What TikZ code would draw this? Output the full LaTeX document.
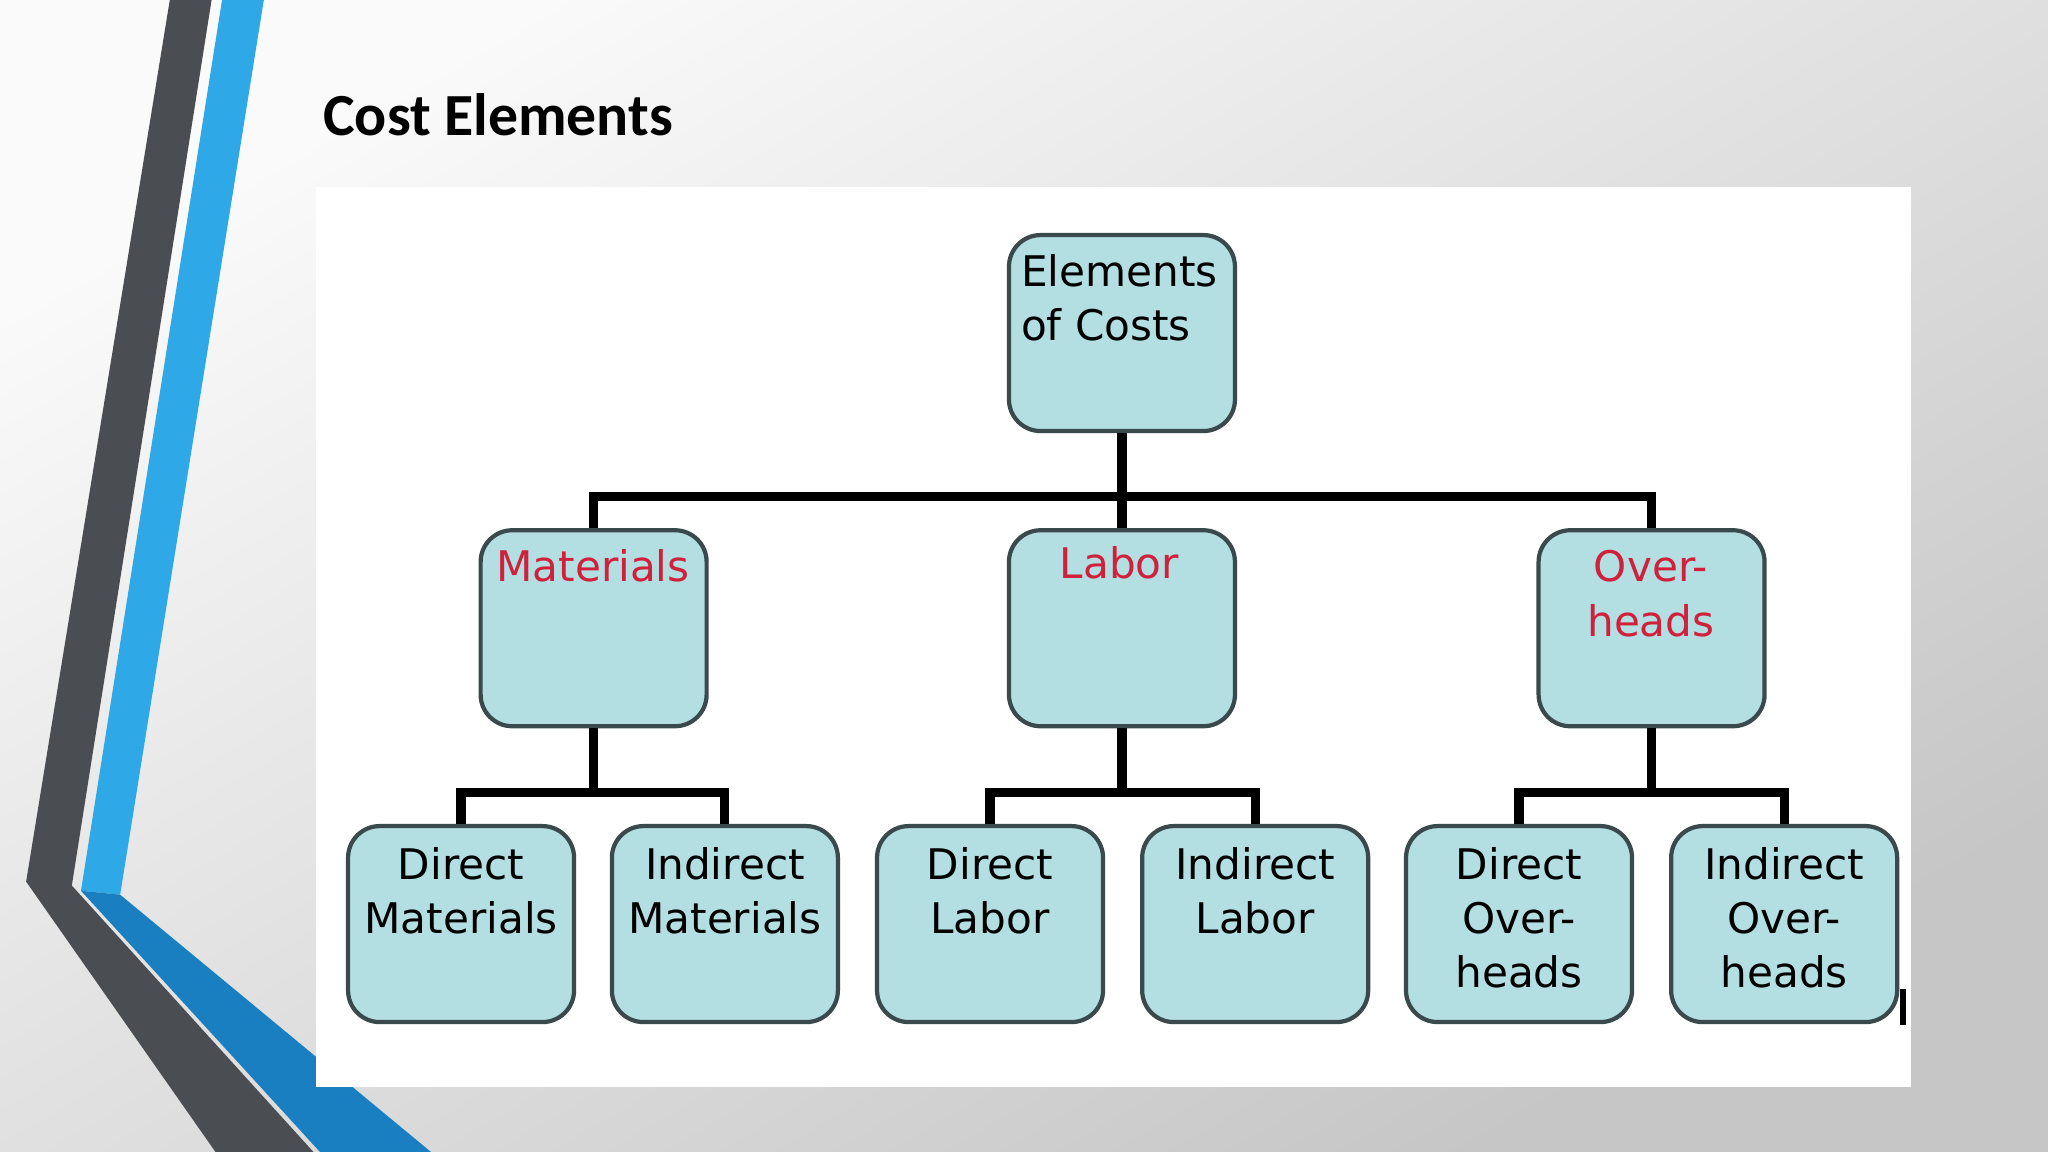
\documentclass[tikz,border=0pt]{standalone}
\usepackage{fontspec}
\setmainfont{DejaVu Sans}
\newfontfamily\titlefont{Carlito}
\definecolor{boxfill}{HTML}{B3DEE2}
\definecolor{boxline}{HTML}{3A4A4C}
\definecolor{redtxt}{HTML}{D0203A}
\definecolor{darkband}{HTML}{4A4D52}
\definecolor{blueband}{HTML}{2EA8E6}
\definecolor{bluedark}{HTML}{1A7FC0}
\begin{document}
\begin{tikzpicture}[x=0.013061cm,y=-0.013061cm,
  cbox/.style={draw=boxline,line width=1.2pt,fill=boxfill,rounded corners=9pt,
    minimum width=2.26cm,minimum height=1.96cm,inner sep=0pt},
  btxt/.style={font=\fontsize{12}{15.4}\selectfont,align=center,anchor=north,inner sep=0pt},
  conn/.style={line width=2.6pt,black}]
\useasboundingbox (0,0) rectangle (1568,882);
\shade[top color=white!96!gray,bottom color=gray!45,shading angle=30] (0,0) rectangle (1568,882);
\fill[darkband] (130,0)--(162,0)--(55,678)--(240,882)--(165,882)--(20,675)--cycle;
\fill[blueband] (170,0)--(202,0)--(92,685)--(62,682)--cycle;
\fill[bluedark] (62,682)--(92,685)--(330,882)--(245,882)--cycle;
\node[anchor=west,font=\titlefont\bfseries\fontsize{17}{20}\selectfont] (title) at (238,88) {Cost Elements};
\fill[white] (242,143) rectangle (1463,832);
% boxes
\node[cbox] (top) at (859,255) {};
\node[cbox] (mat) at (454.5,481) {};
\node[cbox] (lab) at (859,481) {};
\node[cbox] (ovh) at (1264.5,481) {};
\node[cbox] (dm) at (353,707.5) {};
\node[cbox] (im) at (555,707.5) {};
\node[cbox] (dl) at (758,707.5) {};
\node[cbox] (il) at (961,707.5) {};
\node[cbox] (do) at (1163,707.5) {};
\node[cbox] (io) at (1366,707.5) {};
% texts
\node[btxt,align=left] (t0) at (857,194) {Elements\\of Costs};
\node[btxt,text=redtxt] (t1) at (454,420) {Materials};
\node[btxt,text=redtxt] (t2) at (857,418) {Labor};
\node[btxt,text=redtxt] (t3) at (1264,421) {Over-\\heads};
\node[btxt] (t4) at (353,648) {Direct\\Materials};
\node[btxt] (t5) at (555,648) {Indirect\\Materials};
\node[btxt] (t6) at (758,648) {Direct\\Labor};
\node[btxt] (t7) at (961,648) {Indirect\\Labor};
\node[btxt] (t8) at (1163,648) {Direct\\Over-\\heads};
\node[btxt] (t9) at (1366,648) {Indirect\\Over-\\heads};
% connectors
\coordinate (h1) at (859,380);
\draw[conn] (top.south) -- (h1);
\draw[conn] (mat.north) |- (h1) -| (ovh.north);
\draw[conn] (h1) -- (lab.north);
\coordinate (h2) at (454.5,607);
\draw[conn] (mat.south) -- (h2);
\draw[conn] (dm.north) |- (h2) -| (im.north);
\coordinate (h3) at (859,607);
\draw[conn] (lab.south) -- (h3);
\draw[conn] (dl.north) |- (h3) -| (il.north);
\coordinate (h4) at (1264.5,607);
\draw[conn] (ovh.south) -- (h4);
\draw[conn] (do.north) |- (h4) -| (io.north);
\fill[black] (1455,757) rectangle (1459,785);
\end{tikzpicture}
\end{document}
